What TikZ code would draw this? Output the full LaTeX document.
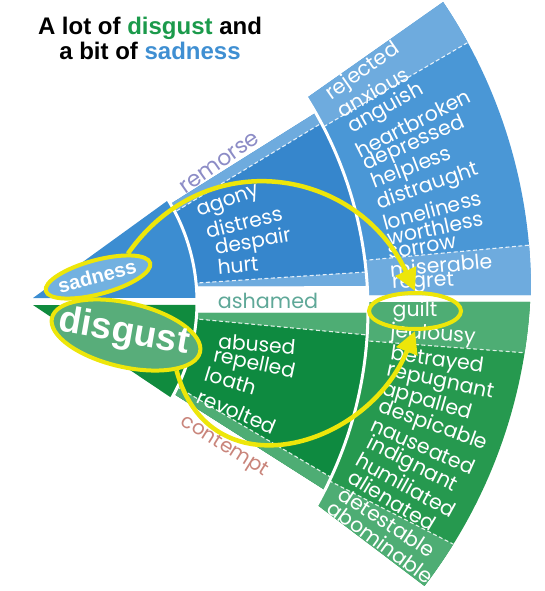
\documentclass[tikz,border=0pt]{standalone}
\usepackage{fontspec}
\setmainfont{Poppins}
\newfontfamily\arialfont{Liberation Sans}
\usetikzlibrary{shapes.geometric,arrows.meta}
\definecolor{bInner}{HTML}{3C8DD1}
\definecolor{bMid}{HTML}{3686CC}
\definecolor{bOut}{HTML}{4A97D6}
\definecolor{bLight}{HTML}{6EABDE}
\definecolor{gInner}{HTML}{108B3E}
\definecolor{gMid}{HTML}{0E8A40}
\definecolor{gOut}{HTML}{26994F}
\definecolor{gLight}{HTML}{4EAD74}
\definecolor{sadFill}{HTML}{72B1E0}
\definecolor{disFill}{HTML}{58AD7A}
\definecolor{yel}{HTML}{EDE60A}
\definecolor{remorseC}{HTML}{8C8CC6}
\definecolor{contemptC}{HTML}{C9857B}
\definecolor{ashamedC}{HTML}{5FA898}
\definecolor{titleGreen}{HTML}{1B9A4B}
\definecolor{titleBlue}{HTML}{3F8FD2}
\newcommand\wordfont{\fontsize{20.5}{20.5}\selectfont}
\newcommand\midfont{\fontsize{20.3}{20.3}\selectfont}
\newcommand\ttlfont{\arialfont\bfseries\fontsize{24}{28}\selectfont}
\begin{document}
\begin{tikzpicture}[x=1pt,y=1pt,
  wordst/.style={text=white, font=\wordfont, inner sep=0pt, anchor=center},
  midst/.style={text=white, font=\midfont, inner sep=0pt, anchor=center},
  labelst/.style={inner sep=0pt, anchor=center},
  dashline/.style={white, line width=1.1pt, dash pattern=on 4pt off 2.5pt, opacity=0.85},
  sepline/.style={white, line width=3pt},
  yline/.style={yel, line width=4.5pt, -{Triangle[length=22pt,width=22pt]}},
  yell/.style={ellipse, draw=yel, line width=4pt, inner sep=0pt}]
\useasboundingbox (0,0) rectangle (544,-591);

% inner wedges
\fill[bInner] (33,-298) -- ([shift={(2,-302)}]31.5:195) arc[start angle=31.5,end angle=1.18,radius=195] -- cycle;
\fill[gInner] (33,-305) -- ([shift={(2,-302)}]-0.88:195) arc[start angle=-0.88,end angle=-29.5,radius=195] -- cycle;

% middle blue
\begin{scope}
\clip ([shift={(2,-302)}]30.2:195) -- ([shift={(-30,-310)}]29.7:398) arc[start angle=29.7,end angle=3.46,radius=398] -- ([shift={(2,-302)}]4.7:195) arc[start angle=4.7,end angle=30.2,radius=195] -- cycle;
\fill[bMid] (150,-80) rectangle (400,-300);
\fill[bLight] (160,-221) -- (330,-118) -- (330,-90) -- (160,-90) -- cycle;
\fill[bLight] (180,-284.1) -- (380,-271.1) -- (380,-290) -- (180,-290) -- cycle;
\draw[dashline] (160,-221) -- (330,-118);
\draw[dashline] (180,-284.1) -- (380,-271.1);
\end{scope}

% middle green
\begin{scope}
\clip ([shift={(2,-302)}]-3.2:195) -- ([shift={(-30,-310)}]-0.43:398) arc[start angle=-0.43,end angle=-26.9,radius=398] -- ([shift={(2,-302)}]-28.15:195) arc[start angle=-28.15,end angle=-3.2,radius=195] -- cycle;
\fill[gMid] (150,-290) rectangle (400,-520);
\fill[gLight] (180,-300) -- (380,-300) -- (380,-336.2) -- (180,-317.4) -- cycle;
\fill[gLight] (160,-376.6) -- (340,-482.6) -- (340,-520) -- (160,-520) -- cycle;
\draw[dashline] (180,-317.4) -- (380,-336.2);
\draw[dashline] (160,-376.6) -- (340,-482.6);
\end{scope}

% outer blue
\begin{scope}
\clip ([shift={(-30,-310)}]32.2:398) -- ([shift={(15,-290)}]33.93:516) arc[start angle=33.93,end angle=-0.56,radius=516] -- ([shift={(-30,-310)}]2.16:398) arc[start angle=2.16,end angle=32.2,radius=398] -- cycle;
\fill[bOut] (290,10) rectangle (545,-300);
\fill[bLight] (290,-146.4) -- (480,-35.4) -- (480,10) -- (290,10) -- cycle;
\fill[bLight] (350,-261.7) -- (545,-243.7) -- (545,-300) -- (350,-300) -- cycle;
\draw[dashline] (290,-146.4) -- (480,-35.4);
\draw[dashline] (350,-261.7) -- (545,-243.7);
\end{scope}

% outer green
\begin{scope}
\clip ([shift={(-30,-310)}]1.15:398) -- ([shift={(15,-272)}]-3.33:516) arc[start angle=-3.33,end angle=-37.48,radius=516] -- ([shift={(-30,-310)}]-29.3:398) arc[start angle=-29.3,end angle=1.15,radius=398] -- cycle;
\fill[gOut] (290,-295) rectangle (545,-600);
\fill[gLight] (350,-300) -- (545,-300) -- (545,-354.3) -- (350,-339.6) -- cycle;
\fill[gLight] (300,-465.8) -- (480,-557.8) -- (480,-600) -- (300,-600) -- cycle;
\draw[dashline] (350,-339.6) -- (545,-354.3);
\draw[dashline] (300,-465.8) -- (480,-557.8);
\end{scope}

% white separators
\draw[sepline] ([shift={(2,-302)}]33:195) arc[start angle=33,end angle=-30,radius=195];
\draw[sepline] ([shift={(-30,-310)}]32.5:398) arc[start angle=32.5,end angle=-29.6,radius=398];

% outer words
\foreach \w/\x/\y/\a in {rejected/363/72/35, anxious/373/92/30, anguish/386/109/29,
  heartbroken/413/123/27, depressed/414/144/24, helpless/412/169/21,
  distraught/428/187/19, loneliness/432/210/15, worthless/435/228/12,
  sorrow/422/248/9, miserable/441/265/5, regret/423/283/3,
  jealousy/433/335/-4, betrayed/437/361/-8, repugnant/440/383/-12,
  appalled/427/402/-16, despicable/433/426/-20, nauseated/423/446/-24,
  indignant/412/465/-27, humiliated/406/485/-29, alienated/392/500/-31,
  detestable/387/522/-33, abominable/381/542/-36}
  \node[wordst, rotate=\a] (\w) at (\x,-\y) {\w};
% middle words
\foreach \w/\x/\y/\a in {agony/229/203/20, distress/244/222/14, despair/253/243/10, hurt/238/265/5,
  abused/257/344/-5, repelled/254/365/-12, loath/231/381/-17, revolted/237/412/-23}
  \node[midst, rotate=\a] (\w) at (\x,-\y) {\w};

% labels
\node[labelst, text=remorseC, font=\fontsize{22}{22}\selectfont, rotate=35] (remorse) at (220,-163) {remorse};
\node[labelst, text=contemptC, font=\fontsize{20}{20}\selectfont, rotate=-32] (contempt) at (224,-447) {contempt};
\node[labelst, text=ashamedC, font=\fontsize{20.7}{20.7}\selectfont] (ashamed) at (268,-301) {ashamed};

% highlighted ellipses
\node[yell, fill=sadFill, minimum width=108pt, minimum height=34pt, rotate=15] (sadness) at (98,-277) {};
\node[text=white, font=\arialfont\bfseries\fontsize{20}{20}\selectfont, inner sep=0pt, rotate=15] (sadnesstext) at (97,-276) {sadness};
\node[yell, fill=disFill, minimum width=152pt, minimum height=64pt, rotate=-13] (disgust) at (126,-335) {};
\node[text=white, font=\arialfont\bfseries\fontsize{37}{37}\selectfont, inner sep=0pt, rotate=-10] (disgusttext) at (124,-333) {disgust};
\node[yell, text=white, font=\wordfont, minimum width=92pt, minimum height=36pt] (guilt) at (415,-311) {guilt};

% arrows
\draw[yline] (sadness.23) to[out=55,in=115,looseness=1.2] (guilt.north);
\draw[yline] (disgust.-22) to[out=-75,in=-112,looseness=1.35] (guilt.south);

% title
\node[font=\ttlfont, anchor=base, inner sep=0pt] (title1) at (150,-35) {A lot of \textcolor{titleGreen}{disgust} and};
\node[font=\ttlfont, anchor=base, inner sep=0pt] (title2) at (150,-60) {a bit of \textcolor{titleBlue}{sadness}};
\end{tikzpicture}
\end{document}
